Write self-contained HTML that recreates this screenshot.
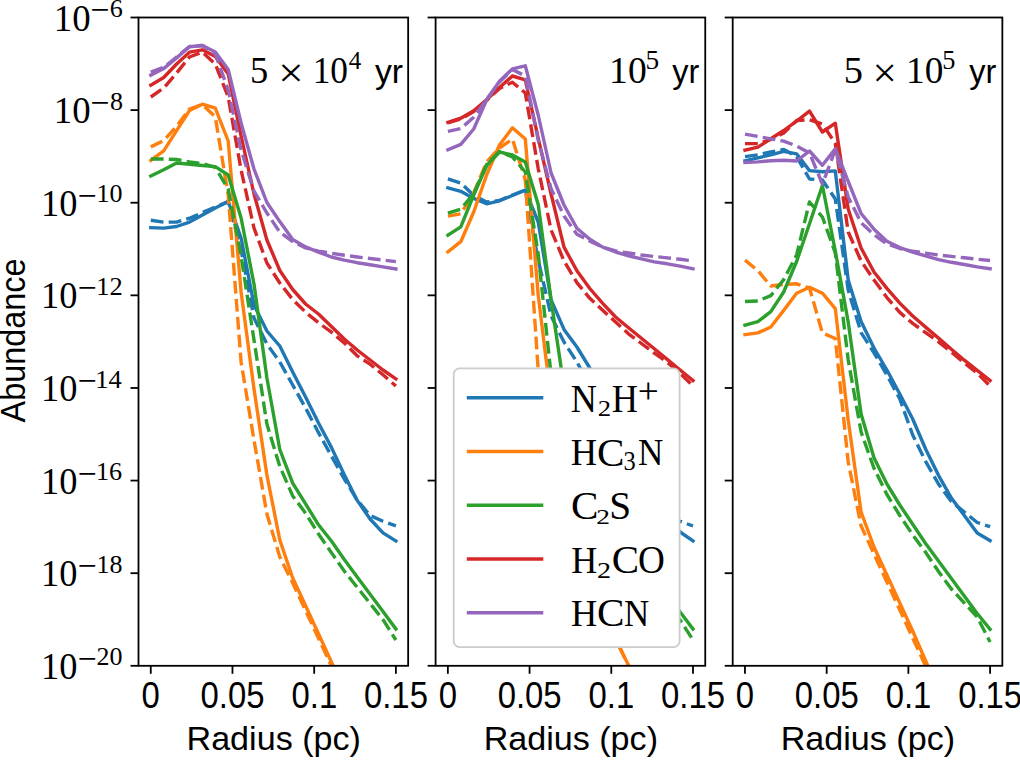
<!DOCTYPE html><html><head><meta charset="utf-8"><style>html,body{margin:0;padding:0;background:#fff;overflow:hidden}svg{display:block}</style></head><body>
<svg width="1020" height="760" viewBox="0 0 1020 760">
<rect width="1020" height="760" fill="#fff"/>
<clipPath id="c0"><rect x="138.5" y="17.5" width="269.65" height="648.3"/></clipPath>
<clipPath id="c1"><rect x="435.6" y="17.5" width="269.65" height="648.3"/></clipPath>
<clipPath id="c2"><rect x="732.7" y="17.5" width="269.65" height="648.3"/></clipPath>
<g clip-path="url(#c0)" fill="none" stroke-width="3.4" stroke-linejoin="round" stroke-linecap="square">
<path d="M150.8,227.6 L163.7,228.1 L176.6,226.5 L189.5,222.1 L202.4,215.0 L215.3,207.9 L228.2,201.5 L241.1,238.0 L254.0,305.0 L266.9,331.0 L279.8,346.0 L292.7,372.0 L305.6,397.0 L318.5,423.0 L331.4,447.4 L344.3,474.8 L357.2,500.4 L370.1,519.0 L383.0,532.9 L395.9,541.0" stroke="#1f77b4"/>
<path d="M150.8,220.2 L163.7,222.1 L176.6,222.1 L189.5,218.2 L202.4,212.6 L215.3,207.1 L228.2,201.6 L241.1,250.0 L254.0,318.0 L266.9,344.0 L279.8,362.0 L292.7,385.0 L305.6,408.0 L318.5,432.7 L331.4,455.9 L344.3,479.0 L357.2,500.0 L370.1,515.5 L383.0,521.3 L395.9,525.9" stroke="#1f77b4" stroke-dasharray="12.8 5.2" stroke-linecap="butt"/>
<path d="M150.8,160.3 L163.7,150.8 L176.6,130.6 L189.5,110.5 L202.4,104.2 L215.3,108.2 L228.2,141.0 L241.1,292.0 L254.0,389.0 L266.9,475.0 L279.8,540.0 L292.7,578.0 L305.6,605.8 L318.5,633.7 L331.4,662.0 L344.3,690.0 L357.2,720.0 L370.1,750.0 L383.0,780.0 L395.9,810.0" stroke="#ff7f0e"/>
<path d="M150.8,146.9 L163.7,140.6 L176.6,126.3 L189.5,109.0 L202.4,104.5 L215.3,117.0 L228.2,195.0 L241.1,362.0 L254.0,440.0 L266.9,514.0 L279.8,557.0 L292.7,583.0 L305.6,610.5 L318.5,638.3 L331.4,666.0 L344.3,694.0 L357.2,724.0 L370.1,754.0 L383.0,784.0 L395.9,814.0" stroke="#ff7f0e" stroke-dasharray="12.8 5.2" stroke-linecap="butt"/>
<path d="M150.8,176.1 L163.7,169.8 L176.6,163.0 L189.5,164.2 L202.4,165.5 L215.3,166.6 L228.2,175.0 L241.1,218.0 L254.0,284.0 L266.9,378.0 L279.8,449.5 L292.7,483.2 L305.6,503.9 L318.5,524.8 L331.4,541.0 L344.3,559.5 L357.2,576.9 L370.1,594.3 L383.0,611.6 L395.9,629.0" stroke="#2ca02c"/>
<path d="M150.8,159.0 L163.7,159.0 L176.6,159.5 L189.5,161.9 L202.4,163.5 L215.3,167.4 L228.2,189.0 L241.1,256.0 L254.0,340.0 L266.9,424.0 L279.8,466.4 L292.7,495.9 L305.6,513.2 L318.5,534.0 L331.4,552.6 L344.3,571.1 L357.2,587.3 L370.1,603.5 L383.0,619.7 L395.9,640.0" stroke="#2ca02c" stroke-dasharray="12.8 5.2" stroke-linecap="butt"/>
<path d="M150.8,85.2 L163.7,77.5 L176.6,64.0 L189.5,52.2 L202.4,49.8 L215.3,56.5 L228.2,74.0 L241.1,136.0 L254.0,194.0 L266.9,240.0 L279.8,270.5 L292.7,289.5 L305.6,304.0 L318.5,314.0 L331.4,326.5 L344.3,339.0 L357.2,350.0 L370.1,360.0 L383.0,370.0 L395.9,379.0" stroke="#d62728"/>
<path d="M150.8,97.0 L163.7,88.0 L176.6,73.0 L189.5,57.0 L202.4,52.0 L215.3,64.0 L228.2,97.0 L241.1,170.0 L254.0,228.0 L266.9,263.0 L279.8,283.0 L292.7,299.5 L305.6,312.2 L318.5,322.7 L331.4,332.2 L344.3,343.0 L357.2,355.8 L370.1,364.2 L383.0,374.8 L395.9,386.0" stroke="#d62728" stroke-dasharray="12.8 5.2" stroke-linecap="butt"/>
<path d="M150.8,75.1 L163.7,68.6 L176.6,57.9 L189.5,46.7 L202.4,45.5 L215.3,52.0 L228.2,69.5 L241.1,123.0 L254.0,169.0 L266.9,202.5 L279.8,221.6 L292.7,239.5 L305.6,246.9 L318.5,252.1 L331.4,257.0 L344.3,260.1 L357.2,262.7 L370.1,264.8 L383.0,266.9 L395.9,269.0" stroke="#9467bd"/>
<path d="M150.8,72.1 L163.7,67.4 L176.6,57.0 L189.5,46.5 L202.4,45.5 L215.3,54.0 L228.2,90.0 L241.1,150.0 L254.0,191.0 L266.9,213.0 L279.8,232.1 L292.7,241.6 L305.6,247.9 L318.5,251.1 L331.4,253.2 L344.3,255.3 L357.2,257.0 L370.1,258.5 L383.0,260.0 L395.9,261.6" stroke="#9467bd" stroke-dasharray="12.8 5.2" stroke-linecap="butt"/>
</g>
<g clip-path="url(#c1)" fill="none" stroke-width="3.4" stroke-linejoin="round" stroke-linecap="square">
<path d="M447.9,187.8 L460.8,191.3 L473.7,198.4 L486.6,203.8 L499.5,200.8 L512.4,195.5 L525.3,190.1 L538.2,222.0 L551.1,300.0 L564.0,329.4 L576.9,347.0 L589.8,368.0 L602.7,395.0 L615.6,422.0 L628.5,447.0 L641.4,475.0 L654.3,500.0 L667.2,519.0 L680.1,532.0 L693.0,541.0" stroke="#1f77b4"/>
<path d="M447.9,178.9 L460.8,183.0 L473.7,195.4 L486.6,202.0 L499.5,200.5 L512.4,195.0 L525.3,190.0 L538.2,260.0 L551.1,316.0 L564.0,342.0 L576.9,362.0 L589.8,386.0 L602.7,412.0 L615.6,433.0 L628.5,456.0 L641.4,479.0 L654.3,500.0 L667.2,515.5 L680.1,521.3 L693.0,526.0" stroke="#1f77b4" stroke-dasharray="12.8 5.2" stroke-linecap="butt"/>
<path d="M447.9,251.8 L460.8,241.7 L473.7,212.0 L486.6,175.0 L499.5,145.0 L512.4,127.8 L525.3,139.0 L538.2,295.0 L551.1,400.0 L564.0,480.0 L576.9,540.0 L589.8,580.0 L602.7,610.0 L615.6,640.0 L628.5,665.0 L641.4,692.0 L654.3,720.0 L667.2,750.0 L680.1,780.0 L693.0,810.0" stroke="#ff7f0e"/>
<path d="M447.9,216.2 L460.8,213.8 L473.7,193.0 L486.6,162.0 L499.5,148.0 L512.4,139.0 L525.3,180.0 L538.2,370.0 L551.1,440.0 L564.0,514.0 L576.9,557.0 L589.8,583.0 L602.7,610.0 L615.6,638.0 L628.5,666.0 L641.4,694.0 L654.3,724.0 L667.2,754.0 L680.1,784.0 L693.0,814.0" stroke="#ff7f0e" stroke-dasharray="12.8 5.2" stroke-linecap="butt"/>
<path d="M447.9,235.2 L460.8,226.9 L473.7,195.0 L486.6,165.7 L499.5,152.0 L512.4,155.0 L525.3,162.1 L538.2,204.4 L551.1,300.0 L564.0,387.0 L576.9,449.5 L589.8,483.0 L602.7,504.0 L615.6,525.0 L628.5,541.0 L641.4,559.5 L654.3,577.0 L667.2,594.0 L680.1,612.0 L693.0,629.0" stroke="#2ca02c"/>
<path d="M447.9,213.2 L460.8,209.1 L473.7,193.7 L486.6,164.5 L499.5,151.5 L512.4,157.0 L525.3,172.0 L538.2,254.0 L551.1,375.0 L564.0,440.0 L576.9,470.0 L589.8,496.0 L602.7,513.0 L615.6,534.0 L628.5,553.0 L641.4,571.0 L654.3,587.0 L667.2,603.5 L680.1,620.0 L693.0,640.0" stroke="#2ca02c" stroke-dasharray="12.8 5.2" stroke-linecap="butt"/>
<path d="M447.9,122.3 L460.8,118.2 L473.7,110.8 L486.6,99.8 L499.5,87.5 L512.4,76.0 L525.3,79.8 L538.2,138.0 L551.1,194.0 L564.0,247.1 L576.9,270.7 L589.8,288.5 L602.7,303.3 L615.6,317.0 L628.5,327.7 L641.4,338.2 L654.3,348.8 L667.2,359.4 L680.1,370.0 L693.0,380.6" stroke="#d62728"/>
<path d="M447.9,123.0 L460.8,119.0 L473.7,111.5 L486.6,100.5 L499.5,88.5 L512.4,82.2 L525.3,93.0 L538.2,168.5 L551.1,230.0 L564.0,260.9 L576.9,282.6 L589.8,298.3 L602.7,310.2 L615.6,322.0 L628.5,333.8 L641.4,343.5 L654.3,353.2 L667.2,362.1 L680.1,373.5 L693.0,385.9" stroke="#d62728" stroke-dasharray="12.8 5.2" stroke-linecap="butt"/>
<path d="M447.9,149.7 L460.8,144.4 L473.7,129.0 L486.6,100.0 L499.5,81.2 L512.4,68.9 L525.3,65.8 L538.2,115.0 L551.1,173.0 L564.0,205.0 L576.9,228.3 L589.8,239.2 L602.7,247.1 L615.6,252.0 L628.5,255.9 L641.4,258.9 L654.3,261.9 L667.2,263.8 L680.1,266.2 L693.0,268.8" stroke="#9467bd"/>
<path d="M447.9,131.3 L460.8,128.5 L473.7,117.3 L486.6,99.5 L499.5,82.0 L512.4,69.5 L525.3,76.0 L538.2,140.0 L551.1,188.6 L564.0,216.0 L576.9,234.2 L589.8,241.1 L602.7,247.1 L615.6,251.0 L628.5,253.0 L641.4,255.0 L654.3,256.5 L667.2,257.9 L680.1,259.3 L693.0,260.9" stroke="#9467bd" stroke-dasharray="12.8 5.2" stroke-linecap="butt"/>
</g>
<g clip-path="url(#c2)" fill="none" stroke-width="3.4" stroke-linejoin="round" stroke-linecap="square">
<path d="M745.0,160.8 L757.9,157.8 L770.8,154.8 L783.7,151.3 L796.6,153.8 L809.5,170.6 L822.4,171.8 L835.3,170.9 L848.2,280.0 L861.1,321.6 L874.0,348.0 L886.9,370.0 L899.8,394.0 L912.7,419.0 L925.6,449.0 L938.5,475.3 L951.4,498.0 L964.3,515.5 L977.2,533.0 L990.1,540.7" stroke="#1f77b4"/>
<path d="M745.0,156.6 L757.9,154.8 L770.8,151.9 L783.7,149.5 L796.6,156.6 L809.5,179.0 L822.4,180.0 L835.3,199.0 L848.2,290.0 L861.1,332.6 L874.0,352.9 L886.9,375.0 L899.8,398.9 L912.7,435.0 L925.6,461.3 L938.5,484.0 L951.4,501.5 L964.3,512.0 L977.2,522.5 L990.1,526.7" stroke="#1f77b4" stroke-dasharray="12.8 5.2" stroke-linecap="butt"/>
<path d="M745.0,334.7 L757.9,332.9 L770.8,327.0 L783.7,310.4 L796.6,293.2 L809.5,287.3 L822.4,293.2 L835.3,308.6 L848.2,420.0 L861.1,512.0 L874.0,547.0 L886.9,575.0 L899.8,603.0 L912.7,631.0 L925.6,660.8 L938.5,690.0 L951.4,720.0 L964.3,750.0 L977.2,780.0 L990.1,810.0" stroke="#ff7f0e"/>
<path d="M745.0,260.1 L757.9,270.7 L770.8,286.0 L783.7,284.4 L796.6,283.8 L809.5,288.0 L822.4,333.0 L835.3,338.5 L848.2,462.0 L861.1,526.0 L874.0,554.0 L886.9,582.0 L899.8,610.0 L912.7,638.0 L925.6,666.0 L938.5,694.0 L951.4,724.0 L964.3,754.0 L977.2,784.0 L990.1,814.0" stroke="#ff7f0e" stroke-dasharray="12.8 5.2" stroke-linecap="butt"/>
<path d="M745.0,325.2 L757.9,321.7 L770.8,311.6 L783.7,292.0 L796.6,261.5 L809.5,223.7 L822.4,185.5 L835.3,251.0 L848.2,322.0 L861.1,414.0 L874.0,457.8 L886.9,484.0 L899.8,505.0 L912.7,524.3 L925.6,543.5 L938.5,561.0 L951.4,578.5 L964.3,596.0 L977.2,613.5 L990.1,629.3" stroke="#2ca02c"/>
<path d="M745.0,301.5 L757.9,301.0 L770.8,295.6 L783.7,279.6 L796.6,255.0 L809.5,202.0 L822.4,217.0 L835.3,253.0 L848.2,360.0 L861.1,432.0 L874.0,468.3 L886.9,494.5 L899.8,515.5 L912.7,534.8 L925.6,552.3 L938.5,571.5 L951.4,589.0 L964.3,603.0 L977.2,617.0 L990.1,642.0" stroke="#2ca02c" stroke-dasharray="12.8 5.2" stroke-linecap="butt"/>
<path d="M745.0,150.1 L757.9,147.1 L770.8,138.8 L783.7,130.5 L796.6,121.1 L809.5,111.1 L822.4,132.0 L835.3,123.2 L848.2,209.0 L861.1,248.0 L874.0,272.0 L886.9,288.4 L899.8,303.1 L912.7,316.0 L925.6,327.1 L938.5,338.1 L951.4,349.2 L964.3,360.2 L977.2,370.4 L990.1,380.5" stroke="#d62728"/>
<path d="M745.0,143.6 L757.9,143.6 L770.8,139.4 L783.7,133.0 L796.6,120.5 L809.5,119.7 L822.4,124.0 L835.3,143.4 L848.2,232.0 L861.1,261.0 L874.0,280.0 L886.9,297.6 L899.8,312.4 L912.7,323.4 L925.6,332.6 L938.5,341.8 L951.4,352.0 L964.3,363.0 L977.2,373.1 L990.1,386.0" stroke="#d62728" stroke-dasharray="12.8 5.2" stroke-linecap="butt"/>
<path d="M745.0,162.5 L757.9,161.9 L770.8,160.8 L783.7,160.2 L796.6,161.0 L809.5,151.0 L822.4,165.3 L835.3,148.8 L848.2,181.3 L861.1,213.5 L874.0,229.2 L886.9,241.2 L899.8,247.6 L912.7,252.2 L925.6,255.9 L938.5,259.6 L951.4,262.3 L964.3,264.5 L977.2,266.9 L990.1,268.8" stroke="#9467bd"/>
<path d="M745.0,134.1 L757.9,136.5 L770.8,138.8 L783.7,141.2 L796.6,146.0 L809.5,153.0 L822.4,184.0 L835.3,150.0 L848.2,197.0 L861.1,222.7 L874.0,234.7 L886.9,243.9 L899.8,248.5 L912.7,251.3 L925.6,253.1 L938.5,255.0 L951.4,256.4 L964.3,257.7 L977.2,259.2 L990.1,260.5" stroke="#9467bd" stroke-dasharray="12.8 5.2" stroke-linecap="butt"/>
</g>
<rect x="138.5" y="17.5" width="269.65" height="648.3" fill="none" stroke="#000" stroke-width="1.8"/>
<line x1="130.5" y1="17.50" x2="138.5" y2="17.50" stroke="#000" stroke-width="1.8"/>
<line x1="130.5" y1="110.11" x2="138.5" y2="110.11" stroke="#000" stroke-width="1.8"/>
<line x1="130.5" y1="202.73" x2="138.5" y2="202.73" stroke="#000" stroke-width="1.8"/>
<line x1="130.5" y1="295.34" x2="138.5" y2="295.34" stroke="#000" stroke-width="1.8"/>
<line x1="130.5" y1="387.96" x2="138.5" y2="387.96" stroke="#000" stroke-width="1.8"/>
<line x1="130.5" y1="480.57" x2="138.5" y2="480.57" stroke="#000" stroke-width="1.8"/>
<line x1="130.5" y1="573.19" x2="138.5" y2="573.19" stroke="#000" stroke-width="1.8"/>
<line x1="130.5" y1="665.80" x2="138.5" y2="665.80" stroke="#000" stroke-width="1.8"/>
<line x1="150.76" y1="665.8" x2="150.76" y2="673.8" stroke="#000" stroke-width="1.8"/>
<line x1="232.47" y1="665.8" x2="232.47" y2="673.8" stroke="#000" stroke-width="1.8"/>
<line x1="314.18" y1="665.8" x2="314.18" y2="673.8" stroke="#000" stroke-width="1.8"/>
<line x1="395.89" y1="665.8" x2="395.89" y2="673.8" stroke="#000" stroke-width="1.8"/>
<rect x="435.6" y="17.5" width="269.65" height="648.3" fill="none" stroke="#000" stroke-width="1.8"/>
<line x1="427.6" y1="17.50" x2="435.6" y2="17.50" stroke="#000" stroke-width="1.8"/>
<line x1="427.6" y1="110.11" x2="435.6" y2="110.11" stroke="#000" stroke-width="1.8"/>
<line x1="427.6" y1="202.73" x2="435.6" y2="202.73" stroke="#000" stroke-width="1.8"/>
<line x1="427.6" y1="295.34" x2="435.6" y2="295.34" stroke="#000" stroke-width="1.8"/>
<line x1="427.6" y1="387.96" x2="435.6" y2="387.96" stroke="#000" stroke-width="1.8"/>
<line x1="427.6" y1="480.57" x2="435.6" y2="480.57" stroke="#000" stroke-width="1.8"/>
<line x1="427.6" y1="573.19" x2="435.6" y2="573.19" stroke="#000" stroke-width="1.8"/>
<line x1="427.6" y1="665.80" x2="435.6" y2="665.80" stroke="#000" stroke-width="1.8"/>
<line x1="447.86" y1="665.8" x2="447.86" y2="673.8" stroke="#000" stroke-width="1.8"/>
<line x1="529.57" y1="665.8" x2="529.57" y2="673.8" stroke="#000" stroke-width="1.8"/>
<line x1="611.28" y1="665.8" x2="611.28" y2="673.8" stroke="#000" stroke-width="1.8"/>
<line x1="692.99" y1="665.8" x2="692.99" y2="673.8" stroke="#000" stroke-width="1.8"/>
<rect x="732.7" y="17.5" width="269.65" height="648.3" fill="none" stroke="#000" stroke-width="1.8"/>
<line x1="724.7" y1="17.50" x2="732.7" y2="17.50" stroke="#000" stroke-width="1.8"/>
<line x1="724.7" y1="110.11" x2="732.7" y2="110.11" stroke="#000" stroke-width="1.8"/>
<line x1="724.7" y1="202.73" x2="732.7" y2="202.73" stroke="#000" stroke-width="1.8"/>
<line x1="724.7" y1="295.34" x2="732.7" y2="295.34" stroke="#000" stroke-width="1.8"/>
<line x1="724.7" y1="387.96" x2="732.7" y2="387.96" stroke="#000" stroke-width="1.8"/>
<line x1="724.7" y1="480.57" x2="732.7" y2="480.57" stroke="#000" stroke-width="1.8"/>
<line x1="724.7" y1="573.19" x2="732.7" y2="573.19" stroke="#000" stroke-width="1.8"/>
<line x1="724.7" y1="665.80" x2="732.7" y2="665.80" stroke="#000" stroke-width="1.8"/>
<line x1="744.96" y1="665.8" x2="744.96" y2="673.8" stroke="#000" stroke-width="1.8"/>
<line x1="826.67" y1="665.8" x2="826.67" y2="673.8" stroke="#000" stroke-width="1.8"/>
<line x1="908.38" y1="665.8" x2="908.38" y2="673.8" stroke="#000" stroke-width="1.8"/>
<line x1="990.09" y1="665.8" x2="990.09" y2="673.8" stroke="#000" stroke-width="1.8"/>
<text transform="matrix(0.36842 0 0 0.37630 53.76 30.52)" font-family='"Liberation Serif", serif' font-size="100" fill="#000" >10</text>
<text transform="matrix(0.33763 0 0 0.34000 90.31 21.44)" font-family='"Liberation Serif", serif' font-size="100" fill="#000" >−</text>
<text transform="matrix(0.26115 0 0 0.25446 109.73 17.05)" font-family='"Liberation Serif", serif' font-size="100" fill="#000">6</text>
<text transform="matrix(0.36842 0 0 0.37630 53.76 123.14)" font-family='"Liberation Serif", serif' font-size="100" fill="#000" >10</text>
<text transform="matrix(0.33763 0 0 0.34000 90.31 114.05)" font-family='"Liberation Serif", serif' font-size="100" fill="#000" >−</text>
<text transform="matrix(0.25999 0 0 0.25333 109.99 109.66)" font-family='"Liberation Serif", serif' font-size="100" fill="#000">8</text>
<text transform="matrix(0.36384 0 0 0.37630 41.10 215.75)" font-family='"Liberation Serif", serif' font-size="100" fill="#000" >10</text>
<text transform="matrix(0.33763 0 0 0.34000 77.41 206.67)" font-family='"Liberation Serif", serif' font-size="100" fill="#000" >−</text>
<text transform="matrix(0.25999 0 0 0.25333 96.39 202.28)" font-family='"Liberation Serif", serif' font-size="100" fill="#000">10</text>
<text transform="matrix(0.36384 0 0 0.37630 41.10 308.37)" font-family='"Liberation Serif", serif' font-size="100" fill="#000" >10</text>
<text transform="matrix(0.33763 0 0 0.34000 77.41 299.28)" font-family='"Liberation Serif", serif' font-size="100" fill="#000" >−</text>
<text transform="matrix(0.26510 0 0 0.25831 96.35 295.14)" font-family='"Liberation Serif", serif' font-size="100" fill="#000">12</text>
<text transform="matrix(0.36384 0 0 0.37630 41.10 400.98)" font-family='"Liberation Serif", serif' font-size="100" fill="#000" >10</text>
<text transform="matrix(0.33763 0 0 0.34000 77.41 391.90)" font-family='"Liberation Serif", serif' font-size="100" fill="#000" >−</text>
<text transform="matrix(0.26590 0 0 0.25909 95.24 387.76)" font-family='"Liberation Serif", serif' font-size="100" fill="#000">14</text>
<text transform="matrix(0.36384 0 0 0.37630 41.10 493.60)" font-family='"Liberation Serif", serif' font-size="100" fill="#000" >10</text>
<text transform="matrix(0.33763 0 0 0.34000 77.41 484.51)" font-family='"Liberation Serif", serif' font-size="100" fill="#000" >−</text>
<text transform="matrix(0.26115 0 0 0.25446 96.07 480.12)" font-family='"Liberation Serif", serif' font-size="100" fill="#000">16</text>
<text transform="matrix(0.36384 0 0 0.37630 41.10 586.21)" font-family='"Liberation Serif", serif' font-size="100" fill="#000" >10</text>
<text transform="matrix(0.33763 0 0 0.34000 77.41 577.12)" font-family='"Liberation Serif", serif' font-size="100" fill="#000" >−</text>
<text transform="matrix(0.25999 0 0 0.25333 96.39 572.73)" font-family='"Liberation Serif", serif' font-size="100" fill="#000">18</text>
<text transform="matrix(0.36384 0 0 0.37630 41.10 678.82)" font-family='"Liberation Serif", serif' font-size="100" fill="#000" >10</text>
<text transform="matrix(0.33763 0 0 0.34000 77.41 669.74)" font-family='"Liberation Serif", serif' font-size="100" fill="#000" >−</text>
<text transform="matrix(0.25999 0 0 0.25333 96.39 665.35)" font-family='"Liberation Serif", serif' font-size="100" fill="#000">20</text>
<text transform="matrix(0.32869 0 0 0.37571 141.62 707.52)" font-family='"Liberation Sans", sans-serif' font-size="100" fill="#000" >0</text>
<text transform="matrix(0.32869 0 0 0.37571 200.54 707.52)" font-family='"Liberation Sans", sans-serif' font-size="100" fill="#000" >0.05</text>
<text transform="matrix(0.32869 0 0 0.37571 291.50 707.52)" font-family='"Liberation Sans", sans-serif' font-size="100" fill="#000" >0.1</text>
<text transform="matrix(0.32869 0 0 0.37571 363.96 707.52)" font-family='"Liberation Sans", sans-serif' font-size="100" fill="#000" >0.15</text>
<text transform="matrix(0.34111 0 0 0.33496 186.53 750.00)" font-family='"Liberation Sans", sans-serif' font-size="100">Radius (pc)</text>
<text transform="matrix(0.32869 0 0 0.37571 438.72 707.52)" font-family='"Liberation Sans", sans-serif' font-size="100" fill="#000" >0</text>
<text transform="matrix(0.32869 0 0 0.37571 497.64 707.52)" font-family='"Liberation Sans", sans-serif' font-size="100" fill="#000" >0.05</text>
<text transform="matrix(0.32869 0 0 0.37571 588.60 707.52)" font-family='"Liberation Sans", sans-serif' font-size="100" fill="#000" >0.1</text>
<text transform="matrix(0.32869 0 0 0.37571 661.06 707.52)" font-family='"Liberation Sans", sans-serif' font-size="100" fill="#000" >0.15</text>
<text transform="matrix(0.34111 0 0 0.33496 483.63 750.00)" font-family='"Liberation Sans", sans-serif' font-size="100">Radius (pc)</text>
<text transform="matrix(0.32869 0 0 0.37571 735.82 707.52)" font-family='"Liberation Sans", sans-serif' font-size="100" fill="#000" >0</text>
<text transform="matrix(0.32869 0 0 0.37571 794.74 707.52)" font-family='"Liberation Sans", sans-serif' font-size="100" fill="#000" >0.05</text>
<text transform="matrix(0.32869 0 0 0.37571 885.70 707.52)" font-family='"Liberation Sans", sans-serif' font-size="100" fill="#000" >0.1</text>
<text transform="matrix(0.32869 0 0 0.37571 958.16 707.52)" font-family='"Liberation Sans", sans-serif' font-size="100" fill="#000" >0.15</text>
<text transform="matrix(0.34111 0 0 0.33496 780.73 750.00)" font-family='"Liberation Sans", sans-serif' font-size="100">Radius (pc)</text>
<text transform="matrix(0 -0.32409 0.34159 0 25.3 422.46)" font-family='"Liberation Sans", sans-serif' font-size="100">Abundance</text>
<text transform="matrix(0.36476 0 0 0.37594 249.88 82.62)" font-family='"Liberation Serif", serif' font-size="100" fill="#000" >5</text>
<text transform="matrix(0.44963 0 0 0.43103 278.15 87.30)" font-family='"Liberation Serif", serif' font-size="100" fill="#000" >×</text>
<text transform="matrix(0.35355 0 0 0.37037 312.69 82.63)" font-family='"Liberation Serif", serif' font-size="100" fill="#000" >10</text>
<text transform="matrix(0.25000 0 0 0.26140 348.70 69.20)" font-family='"Liberation Serif", serif' font-size="100" fill="#000" >4</text>
<text transform="matrix(0.37643 0 0 0.37630 609.09 82.62)" font-family='"Liberation Serif", serif' font-size="100" fill="#000" >10</text>
<text transform="matrix(0.27295 0 0 0.26466 645.42 69.14)" font-family='"Liberation Serif", serif' font-size="100" fill="#000" >5</text>
<text transform="matrix(0.38462 0 0 0.37594 843.67 82.62)" font-family='"Liberation Serif", serif' font-size="100" fill="#000" >5</text>
<text transform="matrix(0.43243 0 0 0.43103 872.48 87.30)" font-family='"Liberation Serif", serif' font-size="100" fill="#000" >×</text>
<text transform="matrix(0.37300 0 0 0.37037 906.12 82.63)" font-family='"Liberation Serif", serif' font-size="100" fill="#000" >10</text>
<text transform="matrix(0.26303 0 0 0.26466 942.27 69.14)" font-family='"Liberation Serif", serif' font-size="100" fill="#000" >5</text>
<text transform="matrix(0.33825 0 0 0.32976 374.90 82.74)" font-family='"Liberation Sans", sans-serif' font-size="100" fill="#000" >yr</text>
<text transform="matrix(0.32472 0 0 0.32976 672.30 82.74)" font-family='"Liberation Sans", sans-serif' font-size="100" fill="#000" >yr</text>
<text transform="matrix(0.32595 0 0 0.32976 969.30 82.74)" font-family='"Liberation Sans", sans-serif' font-size="100" fill="#000" >yr</text>
<rect x="453.7" y="368.3" width="225.9" height="278.9" rx="6" ry="6" fill="#fff" stroke="#cccccc" stroke-width="1.8"/>
<line x1="466.8" y1="397.80" x2="543.3" y2="397.80" stroke="#1f77b4" stroke-width="3.4"/>
<line x1="466.8" y1="451.52" x2="543.3" y2="451.52" stroke="#ff7f0e" stroke-width="3.4"/>
<line x1="466.8" y1="505.24" x2="543.3" y2="505.24" stroke="#2ca02c" stroke-width="3.4"/>
<line x1="466.8" y1="558.96" x2="543.3" y2="558.96" stroke="#d62728" stroke-width="3.4"/>
<line x1="466.8" y1="612.68" x2="543.3" y2="612.68" stroke="#9467bd" stroke-width="3.4"/>
<text transform="matrix(0.36119 0 0 0.39084 570.85 411.60)" font-family='"Liberation Serif", serif' font-size="100" fill="#000" >N</text>
<text transform="matrix(0.26683 0 0 0.23867 597.63 416.40)" font-family='"Liberation Serif", serif' font-size="100" fill="#000" >2</text>
<text transform="matrix(0.36295 0 0 0.39084 611.65 411.60)" font-family='"Liberation Serif", serif' font-size="100" fill="#000" >H</text>
<text transform="matrix(0.37204 0 0 0.35622 637.74 403.43)" font-family='"Liberation Serif", serif' font-size="100" fill="#000" >+</text>
<text transform="matrix(0.36446 0 0 0.38015 570.84 464.80)" font-family='"Liberation Serif", serif' font-size="100" fill="#000" >H</text>
<text transform="matrix(0.41156 0 0 0.39881 597.11 465.60)" font-family='"Liberation Serif", serif' font-size="100" fill="#000" >C</text>
<text transform="matrix(0.24455 0 0 0.27679 623.53 470.02)" font-family='"Liberation Serif", serif' font-size="100" fill="#000" >3</text>
<text transform="matrix(0.35075 0 0 0.38015 637.88 464.80)" font-family='"Liberation Serif", serif' font-size="100" fill="#000" >N</text>
<text transform="matrix(0.41156 0 0 0.40030 570.91 519.10)" font-family='"Liberation Serif", serif' font-size="100" fill="#000" >C</text>
<text transform="matrix(0.27431 0 0 0.21903 596.29 523.70)" font-family='"Liberation Serif", serif' font-size="100" fill="#000" >2</text>
<text transform="matrix(0.39344 0 0 0.40030 609.36 519.10)" font-family='"Liberation Serif", serif' font-size="100" fill="#000" >S</text>
<text transform="matrix(0.35994 0 0 0.37863 571.16 572.70)" font-family='"Liberation Serif", serif' font-size="100" fill="#000" >H</text>
<text transform="matrix(0.28180 0 0 0.22961 596.96 577.60)" font-family='"Liberation Serif", serif' font-size="100" fill="#000" >2</text>
<text transform="matrix(0.40981 0 0 0.40030 611.72 573.00)" font-family='"Liberation Serif", serif' font-size="100" fill="#000" >C</text>
<text transform="matrix(0.37187 0 0 0.40030 638.08 573.00)" font-family='"Liberation Serif", serif' font-size="100" fill="#000" >O</text>
<text transform="matrix(0.36295 0 0 0.37557 570.95 625.50)" font-family='"Liberation Serif", serif' font-size="100" fill="#000" >H</text>
<text transform="matrix(0.41156 0 0 0.39435 597.11 626.31)" font-family='"Liberation Serif", serif' font-size="100" fill="#000" >C</text>
<text transform="matrix(0.34925 0 0 0.37557 623.89 625.50)" font-family='"Liberation Serif", serif' font-size="100" fill="#000" >N</text>
</svg></body></html>
